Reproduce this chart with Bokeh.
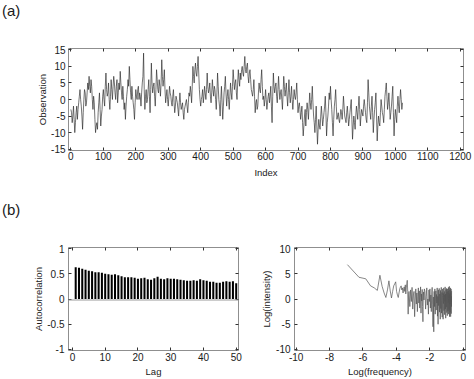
import math
from bokeh.plotting import figure
from bokeh.models import Range1d, LinearAxis, FixedTicker, Span, Div
from bokeh.layouts import column, row
from bokeh.embed import file_html
from bokeh.resources import INLINE

# ---------------- data ----------------
series_index = list(range(0, 1024, 2))
observation = [
    -3, -4, -7, -5, -2, -6, -10, -7, -4, -2, -6, -3, -1, 1, 3, 0, -2, -5, -9, -4,
    0, 3, 2, -2, -1, 2, 5, 3, 7, 4, 2, 6, 4, 0, -3, 1, -1, -6, -10, -8,
    -7, -9, -4, -1, 2, -3, -8, -5, -3, 1, 3, 0, -2, 4, 8, 3, 1, 2, 5, 0,
    -3, 1, 6, 3, 0, 4, 7, 5, 2, 0, 4, 6, -1, 2, 5, 3, 8.5, 5, 2, 0,
    4, 1, -3, -1, -6, -2, 1, 3, 6, 4, 10, 6, 2, 0, 4, 1, -1, -3, -6, -1,
    3, 1, 0, 3, 4, 0, 2, 1, -2, 2, 5, 7, 14, 3, -3, 1, 3, -1, 0, 3,
    6, 1, -4, 3, 11, 5, 2, 4, 5, 1, -2, 3, 9, 6, 3, 2, 6, 4, 1, 5,
    12, 7, 4, 6, 9, 3, -1, 1, 3, 0, -2, 1, 4, 2, 1, -1, -2, 1, 3, -1,
    -4, -2, 1, 0, -1, -3, -5, -1, 2, -1, -3, -2, -1, -4, -6, -3, -2, -1, 0, -2,
    -4, -1, 2, 1, 4, 2, -1, 4, 10, 7, 5, 9, 11, 8, 7, 10, 13, 8, 3, 0,
    -2, 0, 1, 3, -1, 1, 4, 2, 0, 3, 8, 4, 2, 3, 5, 1, -1, 2, 6, 3,
    1, 4, 3, 0, -3, 2, 8, 4, 0, -2, -5, 0, 4, -1, -6, -2, 2, 4, 7, 2,
    -2, 1, 3, 0, -3, 1, 5, 2, 0, 4, 9, 6, 3, 5, 6, 2, 0, 5, 9, 6,
    4, 8, 6, 9, 10, 8, 7, 10, 13, 9, 8, 10, 11, 7, 5, 8, 9, 6, 3, 2,
    1, 3, 6, 1, -4, -1, 0, -3, -2, 2, 5, 3, 2, 6, 9, 4, 0, 1, -2, 0,
    3, 0, -3, -1, 1, 2, -1, 1, 4, -2, -7, 1, 8, 4, 2, 4, 5, 1, -1, 3,
    7, 3, 0, 2, 3, 0, -3, 2, 7, 4, 1, 3, 5, 1, -2, 2, 6, 2, -1, 1,
    4, 0, -3, 0, 3, 1, 0, 2, 5, 0, -4, -2, -1, -3, -6, -4, -2, -7, -11, -8,
    -5, -3, -8, -4, -1, -3, -6, -2, 2, -1, -3, 0, 4, -1, -5, -7, -10, -6, -2, -8,
    -13.5, -9, -6, -8, -9, -5, -2, -5, -8, -6, -4, -2, 1, -4, -11, -7, -5, -2, 2, 0,
    4, 0, -3, -7, -11, -6, -2, 0, 3, -2, -6, -5, -4, -6, -7, -5, -3, -4, -6, -3,
    1, -2, -5, -6, -7, -4, -2, -5, -8, -6, -4, -2, 0, -6, -12, -8, -5, -7, -9, -5,
    -2, -4, -6, -2, 1, -3, -8, -5, -3, -4, -5, -2, 0, -2, -4, -6, -7, -1, 6, 2,
    -2, -4, -6, -2, 1, -4, -10, -6, -3, -1, 2, -5, -12.5, -8, -5, -7, -8, -4, 0, -2,
    -4, -5, -7, -3, 1, 3, 5, 1, -3, -1, 2, -2, -6, -4, -2, 1, 4, -4, -11, -6,
    -3, -5, -7, -2, 1, -2, -4, 0, 3, 0, -3, -1,
]

lags = list(range(1, 51))
acf = [
    0.63, 0.62, 0.60, 0.58, 0.56, 0.55, 0.53, 0.53, 0.52, 0.50,
    0.49, 0.48, 0.49, 0.47, 0.45, 0.43, 0.43, 0.43, 0.42, 0.40,
    0.41, 0.42, 0.39, 0.38, 0.41, 0.44, 0.40, 0.39, 0.41, 0.40,
    0.40, 0.39, 0.38, 0.37, 0.36, 0.36, 0.37, 0.36, 0.39, 0.37,
    0.36, 0.34, 0.34, 0.32, 0.32, 0.34, 0.35, 0.34, 0.35, 0.31,
]
acf_bound = -0.02

n_obs = 1024
pgram_k = list(range(1, 41)) + list(range(42, 101, 2)) + list(range(104, 513, 4))
log_intensity = [
    6.8, 4.3, 4.0, 2.6, 2.2, 1.7, 4.7, 2.5, 1.2, 0.3,
    1.8, 3.6, 1.6, 0.2, 1.5, 2.6, 3.0, 3.4, 1.5, 0.8,
    0.3, 1.2, 2.0, 2.4, 2.6, 1.8, 2.2, 1.2, 2.0, 2.4,
    1.5, 2.8, 1.0, 2.2, 3.0, 3.7, 1.5, -3.0, 0.8, 1.5,
    -1.5, 1.8, -0.5, 2.3, -2.0, 0.8, 1.5, -3.5, 0.0, 2.0,
    -1.0, 1.2, -2.5, 0.5, 2.2, -0.8, 1.6, -1.8, 0.3, 2.4,
    -2.8, 1.0, -0.4, 1.9, -1.5, -4.5, 0.6, 1.4, -0.2, 2.0,
    1.5, -2.0, 0.5, 2.2, -1.2, 0.0, -3.0, 1.8, -0.5, 2.0,
    -1.8, 0.8, -2.5, 1.2, 2.3, -1.0, -5.5, 0.4, -6.5, 1.5,
    -1.5, 2.0, -3.0, 0.2, 1.6, -2.2, 0.9, -0.8, 2.2, -3.4,
    0.5, -5.0, 1.8, -1.3, 0.0, 2.1, -2.6, 1.0, -0.6, -4.0,
    1.7, -1.9, 0.4, 2.3, -2.8, -0.2, 1.3, -3.6, 0.7, 2.0,
    -1.4, -4.0, 1.1, -0.9, 2.2, -2.3, 0.2, 1.5, -3.1, 0.8,
    -0.5, 2.4, -2.0, 1.0, -3.8, 0.3, 1.9, -1.6, -0.3, 2.1,
    -2.7, 0.6, 1.4, -3.3, 0.0, 2.0, -1.2, -2.4, 1.6, -0.7,
    2.3, -3.0, 0.4, 1.2, -2.1, -0.4, 2.5, -3.5, 0.9, -1.0,
    1.8, -2.6, 0.1, 2.2, -1.8, -3.5, 1.3, -0.6, 2.0, -2.9,
    0.5, -1.5, 1.6,
]
log_frequency = [math.log(k / n_obs) for k in pgram_k]

a_xticks = list(range(0, 1201, 100))
a_yticks = [-15, -10, -5, 0, 5, 10, 15]
acf_xticks = [0, 10, 20, 30, 40, 50]
acf_yticks = [-1, -0.5, 0, 0.5, 1]
acf_ylabels = ["-1", "-0.5", "0", "0.5", "1"]
pg_xticks = [-10, -8, -6, -4, -2, 0]
pg_yticks = [-10, -5, 0, 5, 10]

FONT = "Liberation Sans"
TXT = "#1a1a1a"
BOX = "#8f8f8f"


def make_fig(width, height, xr, yr, mb):
    p = figure(width=width, height=height, x_range=Range1d(*xr), y_range=Range1d(*yr),
               output_backend="svg", toolbar_location=None,
               x_axis_location=None, y_axis_location=None,
               min_border_left=mb[0], min_border_right=mb[1],
               min_border_top=mb[2], min_border_bottom=mb[3])
    p.grid.visible = False
    p.outline_line_color = BOX
    p.outline_line_width = 1
    p.background_fill_color = "white"
    p.border_fill_color = "white"
    return p


def panel_tag(text, height, pad_top):
    return Div(text=text, width=474, height=height, margin=(0, 0, 0, 0),
               styles={"font-family": FONT, "font-size": "15px", "color": TXT,
                       "padding-top": f"{pad_top}px", "padding-left": "2px",
                       "line-height": "17px"})


def add_axes(p, xt, yt, xlab, ylab, xs, ys, xlabels=None, ylabels=None):
    def fmt(t):
        return str(int(t)) if float(t).is_integer() else str(t)
    xov = {t: (xlabels[i] if xlabels else fmt(t)) for i, t in enumerate(xt)}
    yov = {t: (ylabels[i] if ylabels else fmt(t)) for i, t in enumerate(yt)}
    for loc, ticks, ov, lab, st in (("below", xt, xov, xlab, xs), ("left", yt, yov, ylab, ys),
                                     ("above", xt, None, None, None), ("right", yt, None, None, None)):
        ax = LinearAxis(ticker=FixedTicker(ticks=ticks, minor_ticks=[]))
        ax.axis_line_color = None
        ax.major_tick_in = 3
        ax.major_tick_out = 0
        ax.major_tick_line_color = "#333333"
        ax.major_tick_line_width = 1
        ax.minor_tick_line_color = None
        if ov is None:
            ax.major_label_text_color = None
            ax.major_label_text_font_size = "1px"
            ax.major_label_standoff = 0
        else:
            ax.major_label_overrides = ov
            ax.major_label_text_font = FONT
            ax.major_label_text_font_size = "10px"
            ax.major_label_text_color = TXT
            ax.major_label_standoff = st[0]
            ax.axis_label = lab
            ax.axis_label_text_font = FONT
            ax.axis_label_text_font_size = "9.5px"
            ax.axis_label_text_font_style = "normal"
            ax.axis_label_text_color = TXT
            ax.axis_label_standoff = st[1]
        p.add_layout(ax, loc)


# ---------------- (a) time series ----------------
tag_a = panel_tag("(a)", 24, 2)
pa = make_fig(474, 170, (-7.4, 1210), (-15.4, 15.4), (68, 11, 24, 44))
pa.line(series_index, observation, line_color="#262626", line_width=0.65)
add_axes(pa, a_xticks, a_yticks, "Index", "Observation", (1, 4), (3, 0))

# ---------------- (b) autocorrelation ----------------
tag_b = panel_tag("(b)", 24, 7)
pb1 = make_fig(254, 161, (-1.2, 50.7), (-1.02, 1.02), (68, 16, 29, 29))
pb1.add_layout(Span(location=acf_bound, dimension="width", line_color="#9a9a9a", line_width=1))
pb1.vbar(x=lags, top=acf, bottom=0, width=0.62, fill_color="black", line_color=None)
add_axes(pb1, acf_xticks, acf_yticks, "Lag", "Autocorrelation", (2, 2), (4, 0), ylabels=acf_ylabels)

# ---------------- (b) periodogram ----------------
pb2 = make_fig(220, 161, (-10.1, 0.14), (-10.2, 10.2), (40, 9, 29, 29))
pb2.line(log_frequency, log_intensity, line_color="#555555", line_width=0.7)
add_axes(pb2, pg_xticks, pg_yticks, "Log(frequency)", "Log(intensity)", (2, 2), (4, 1))

layout = column(tag_a, pa, tag_b, row(pb1, pb2, spacing=0), spacing=0)

open("out.html", "w").write(file_html(layout, INLINE))
